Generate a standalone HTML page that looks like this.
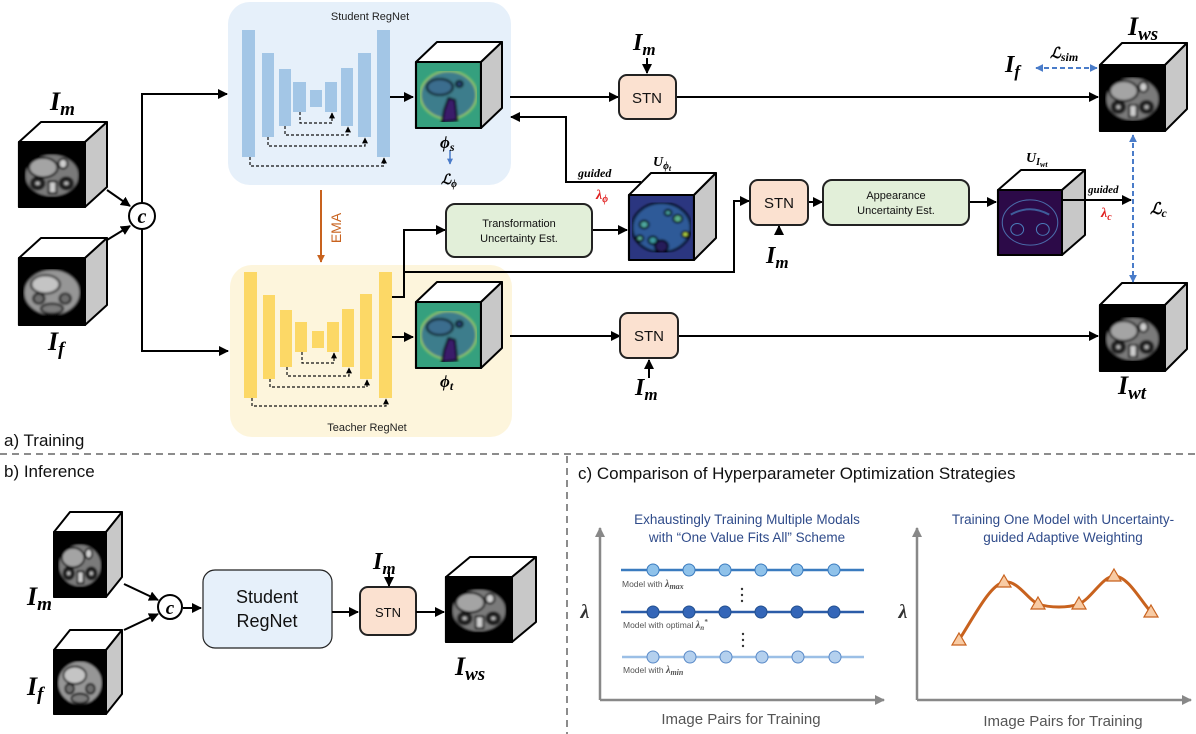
<!DOCTYPE html>
<html><head><meta charset="utf-8"><style>
html,body{margin:0;padding:0;background:#fff;}
svg{display:block;}
.s{font-family:"Liberation Sans",sans-serif;}
.m{font-family:"Liberation Serif",serif;font-style:italic;font-weight:bold;}
</style></head><body>
<svg width="1196" height="734" viewBox="0 0 1196 734" xmlns="http://www.w3.org/2000/svg">
<defs>
<filter id="bl" x="0" y="0" width="100%" height="100%"><feGaussianBlur stdDeviation="1.2"/></filter>
<marker id="a" viewBox="0 0 10 10" refX="9" refY="5" markerWidth="5" markerHeight="5" orient="auto-start-reverse"><path d="M0,0L10,5L0,10z" fill="#000"/></marker>
<marker id="b" viewBox="0 0 10 10" refX="9" refY="5" markerWidth="4" markerHeight="4" orient="auto-start-reverse"><path d="M0,0L10,5L0,10z" fill="#4a7cc9"/></marker>
<marker id="o" viewBox="0 0 10 10" refX="9" refY="5" markerWidth="4" markerHeight="4" orient="auto"><path d="M0,0L10,5L0,10z" fill="#c8621e"/></marker>
<marker id="g" viewBox="0 0 10 10" refX="9" refY="5" markerWidth="4" markerHeight="4" orient="auto"><path d="M0,0L10,5L0,10z" fill="#888"/></marker>
<g id="ct"><rect width="60" height="66" fill="#000"/><g filter="url(#bl)"><ellipse cx="30" cy="34" rx="25" ry="22" fill="#7a7a7a"/><ellipse cx="22" cy="26" rx="13" ry="10" fill="#a4a4a4"/><circle cx="17" cy="42" r="6" fill="#3a3a3a"/><circle cx="43" cy="42" r="6" fill="#3a3a3a"/><circle cx="17" cy="42" r="3" fill="#bbb"/><circle cx="43" cy="42" r="3" fill="#bbb"/><rect x="27" y="40" width="7" height="12" fill="#cfcfcf"/><ellipse cx="40" cy="22" rx="4" ry="5" fill="#d0d0d0"/></g></g>
<g id="mr"><rect width="60" height="66" fill="#000"/><g filter="url(#bl)"><ellipse cx="30" cy="34" rx="26" ry="23" fill="#969696"/><ellipse cx="24" cy="26" rx="13" ry="9" fill="#c4c4c4"/><circle cx="18" cy="40" r="5" fill="#6e6e6e"/><circle cx="42" cy="40" r="5" fill="#6e6e6e"/><ellipse cx="30" cy="50" rx="10" ry="5" fill="#7c7c7c"/></g></g>
<g id="fl"><rect width="60" height="66" fill="#35a07e"/><g filter="url(#bl)"><ellipse cx="30" cy="33" rx="26" ry="24" fill="#3e7d8c" stroke="#a8d45a" stroke-width="1.5"/><ellipse cx="22" cy="25" rx="12" ry="8" fill="#3b6d8e"/><path d="M26,48 L30,36 L36,38 L38,58 L24,60z" fill="#3b1a6a"/><circle cx="40" cy="22" r="3" fill="#2a4b7e"/></g></g>
<g id="up"><rect width="60" height="66" fill="#2b3680"/><g filter="url(#bl)"><ellipse cx="30" cy="33" rx="27" ry="25" fill="#2e5a98"/><circle cx="14" cy="30" r="4" fill="#4fa8a0"/><circle cx="45" cy="24" r="4" fill="#5cb08a"/><circle cx="52" cy="40" r="3" fill="#b6d84a"/><circle cx="22" cy="46" r="4" fill="#3c9aa0"/><circle cx="36" cy="18" r="3" fill="#4aa0a0"/><circle cx="10" cy="44" r="3" fill="#5ab09a"/><ellipse cx="30" cy="52" rx="6" ry="6" fill="#281a5a"/></g></g>
<g id="ua"><rect width="60" height="66" fill="#2c0a48"/><ellipse cx="30" cy="33" rx="26" ry="23" fill="none" stroke="#4a6aa8" stroke-width="1"/><circle cx="18" cy="40" r="6" fill="none" stroke="#4a7ab8" stroke-width="1"/><circle cx="42" cy="40" r="6" fill="none" stroke="#4a7ab8" stroke-width="1"/><path d="M12,25 Q30,14 48,25" fill="none" stroke="#3e5c9a"/></g>
</defs>

<rect x="228" y="2" width="283" height="183" rx="22" fill="#e6f0fa"/>
<text x="370" y="20" class="s" font-size="11" text-anchor="middle" fill="#222">Student RegNet</text>
<rect x="230" y="265" width="282" height="172" rx="22" fill="#fdf5dc"/>
<text x="367" y="431" class="s" font-size="11" text-anchor="middle" fill="#222">Teacher RegNet</text>

<g fill="#a3c6e6">
<rect x="242" y="30" width="13" height="127"/><rect x="262" y="53" width="12" height="84"/><rect x="279" y="69" width="12" height="57"/><rect x="293" y="82" width="13" height="30"/><rect x="310" y="90" width="12" height="17"/><rect x="325" y="82" width="12" height="30"/><rect x="341" y="68" width="12" height="58"/><rect x="358" y="53" width="13" height="84"/><rect x="377" y="30" width="13" height="127"/>
</g>
<g fill="none" stroke="#111" stroke-width="1.2" stroke-dasharray="3,2" marker-end="url(#a)">
<path d="M300,112V123H332V113"/><path d="M285,126V135H348V127"/><path d="M268,137V146H365V138"/><path d="M250,157V166H384V158"/>
</g>
<g fill="#fcd866">
<rect x="244" y="272" width="13" height="126"/><rect x="263" y="295" width="12" height="84"/><rect x="280" y="310" width="12" height="57"/><rect x="295" y="322" width="12" height="30"/><rect x="312" y="331" width="12" height="17"/><rect x="327" y="322" width="12" height="30"/><rect x="342" y="309" width="12" height="58"/><rect x="360" y="294" width="12" height="85"/><rect x="379" y="272" width="13" height="126"/>
</g>
<g fill="none" stroke="#111" stroke-width="1.2" stroke-dasharray="3,2" marker-end="url(#a)">
<path d="M302,352V363H334V353"/><path d="M287,367V376H349V368"/><path d="M270,379V387H367V380"/><path d="M252,398V406H386V399"/>
</g>

<line x1="321" y1="190" x2="321" y2="262" stroke="#c8621e" stroke-width="2" marker-end="url(#o)"/>
<text transform="translate(341,228) rotate(-90)" class="s" font-size="14" fill="#c8621e" text-anchor="middle">EMA</text>

<g stroke="#000" stroke-width="2" stroke-linejoin="round">
<use href="#ct" transform="translate(19,142) scale(1.1,0.985)"/><rect x="19" y="142" width="66" height="65" fill="none"/><polygon points="19,142 41,122 107,122 85,142" fill="#fff"/><polygon points="85,142 107,122 107,187 85,207" fill="#c8c8c8"/>
<use href="#mr" transform="translate(19,258) scale(1.1,1.015)"/><rect x="19" y="258" width="66" height="67" fill="none"/><polygon points="19,258 41,238 107,238 85,258" fill="#fff"/><polygon points="85,258 107,238 107,305 85,325" fill="#c8c8c8"/>
<use href="#fl" transform="translate(416,62) scale(1.083,1)"/><rect x="416" y="62" width="65" height="66" fill="none"/><polygon points="416,62 437,42 502,42 481,62" fill="#fff"/><polygon points="481,62 502,42 502,108 481,128" fill="#c8c8c8"/>
<use href="#fl" transform="translate(416,302) scale(1.083,1)"/><rect x="416" y="302" width="65" height="66" fill="none"/><polygon points="416,302 437,282 502,282 481,302" fill="#fff"/><polygon points="481,302 502,282 502,348 481,368" fill="#c8c8c8"/>
<use href="#up" transform="translate(629,195) scale(1.083,0.985)"/><rect x="629" y="195" width="65" height="65" fill="none"/><polygon points="629,195 651,173 716,173 694,195" fill="#fff"/><polygon points="694,195 716,173 716,238 694,260" fill="#c8c8c8"/>
<use href="#ua" transform="translate(998,190) scale(1.067,0.985)"/><rect x="998" y="190" width="64" height="65" fill="none"/><polygon points="998,190 1021,170 1085,170 1062,190" fill="#fff"/><polygon points="1062,190 1085,170 1085,235 1062,255" fill="#c8c8c8"/>
<use href="#ct" transform="translate(1100,65) scale(1.083,1)"/><rect x="1100" y="65" width="65" height="66" fill="none"/><polygon points="1100,65 1122,43 1187,43 1165,65" fill="#fff"/><polygon points="1165,65 1187,43 1187,109 1165,131" fill="#c8c8c8"/>
<use href="#ct" transform="translate(1100,305) scale(1.083,1)"/><rect x="1100" y="305" width="65" height="66" fill="none"/><polygon points="1100,305 1122,283 1187,283 1165,305" fill="#fff"/><polygon points="1165,305 1187,283 1187,349 1165,371" fill="#c8c8c8"/>
<use href="#ct" transform="translate(54,532) scale(0.867,0.985)"/><rect x="54" y="532" width="52" height="65" fill="none"/><polygon points="54,532 70,512 122,512 106,532" fill="#fff"/><polygon points="106,532 122,512 122,577 106,597" fill="#c8c8c8"/>
<use href="#mr" transform="translate(54,650) scale(0.867,0.97)"/><rect x="54" y="650" width="52" height="64" fill="none"/><polygon points="54,650 70,630 122,630 106,650" fill="#fff"/><polygon points="106,650 122,630 122,694 106,714" fill="#c8c8c8"/>
<use href="#ct" transform="translate(446,577) scale(1.1,0.985)"/><rect x="446" y="577" width="66" height="65" fill="none"/><polygon points="446,577 470,557 536,557 512,577" fill="#fff"/><polygon points="512,577 536,557 536,622 512,642" fill="#c8c8c8"/>
</g>

<g fill="none" stroke="#000" stroke-width="2" marker-end="url(#a)">
<path d="M107,190L130,206"/><path d="M107,240L130,226"/>
<path d="M142,203V94H227"/><path d="M142,229V351H228"/>
<path d="M390,97H413"/><path d="M392,337H413"/>
<path d="M510,97H618"/><path d="M676,97H1098"/>
<path d="M510,336H620"/><path d="M678,336H1098"/>
<path d="M392,297H404V230H445"/>
<path d="M404,272H734V201H749"/>
<path d="M592,230H627"/>
<path d="M808,202H822"/><path d="M969,202H996"/>
<path d="M1062,200H1131"/>
<path d="M641,182H566V117H511"/>
<path d="M647,58V73"/><path d="M779,234V226"/><path d="M649,378V360"/>
</g>
<line x1="450" y1="150" x2="450" y2="164" stroke="#4a7cc9" stroke-width="1.5" marker-end="url(#b)"/>
<line x1="1036" y1="68" x2="1097" y2="68" stroke="#4a7cc9" stroke-width="2" stroke-dasharray="5,3" marker-start="url(#b)" marker-end="url(#b)"/>
<line x1="1133" y1="135" x2="1133" y2="282" stroke="#4a7cc9" stroke-width="2" stroke-dasharray="5,3" marker-start="url(#b)" marker-end="url(#b)"/>

<circle cx="142" cy="216" r="13" fill="#fff" stroke="#000" stroke-width="2"/>
<text x="142" y="223" class="m" font-size="20" text-anchor="middle">c</text>

<g stroke="#222" stroke-width="2">
<rect x="619" y="75" width="57" height="44" rx="8" fill="#fbe1d0"/>
<rect x="750" y="180" width="58" height="45" rx="8" fill="#fbe1d0"/>
<rect x="620" y="313" width="58" height="45" rx="8" fill="#fbe1d0"/>
<rect x="446" y="204" width="146" height="53" rx="9" fill="#e2efd9"/>
<rect x="823" y="180" width="146" height="45" rx="9" fill="#e2efd9"/>
<rect x="203" y="570" width="129" height="78" rx="12" fill="#e6f0fa" stroke-width="1.2"/>
<rect x="360" y="587" width="56" height="48" rx="8" fill="#fbe1d0"/>
</g>
<g class="s" text-anchor="middle" fill="#111">
<text x="647" y="103" font-size="15">STN</text>
<text x="779" y="208" font-size="15">STN</text>
<text x="649" y="341" font-size="15">STN</text>
<text x="519" y="227" font-size="11">Transformation</text>
<text x="519" y="242" font-size="11">Uncertainty Est.</text>
<text x="896" y="199" font-size="11">Appearance</text>
<text x="896" y="214" font-size="11">Uncertainty Est.</text>
<text x="267" y="603" font-size="18">Student</text>
<text x="267" y="627" font-size="18">RegNet</text>
<text x="388" y="617" font-size="13">STN</text>
</g>

<g class="m" fill="#000">
<text x="50" y="110" font-size="26">I<tspan font-size="19" dy="5">m</tspan></text>
<text x="48" y="350" font-size="26">I<tspan font-size="19" dy="5">f</tspan></text>
<text x="440" y="148" font-size="17">ϕ<tspan font-size="12" dy="3">s</tspan></text>
<text x="441" y="184" font-size="14">ℒ<tspan font-size="10" dy="3">ϕ</tspan></text>
<text x="440" y="387" font-size="17">ϕ<tspan font-size="12" dy="3">t</tspan></text>
<text x="633" y="50" font-size="24">I<tspan font-size="17" dy="5">m</tspan></text>
<text x="766" y="263" font-size="24">I<tspan font-size="17" dy="5">m</tspan></text>
<text x="635" y="395" font-size="24">I<tspan font-size="17" dy="5">m</tspan></text>
<text x="1005" y="72" font-size="24">I<tspan font-size="17" dy="5">f</tspan></text>
<text x="1050" y="58" font-size="15">ℒ<tspan font-size="12" dy="3">sim</tspan></text>
<text x="1128" y="35" font-size="26">I<tspan font-size="19" dy="5">ws</tspan></text>
<text x="1118" y="394" font-size="26">I<tspan font-size="19" dy="5">wt</tspan></text>
<text x="1150" y="214" font-size="16">ℒ<tspan font-size="12" dy="3">c</tspan></text>
<text x="578" y="177" font-size="12">guided</text>
<text x="1088" y="193" font-size="11">guided</text>
<text x="653" y="166" font-size="14">U<tspan font-size="10" dy="3">ϕ</tspan><tspan font-size="8" dy="2">t</tspan></text>
<text x="1026" y="162" font-size="14">U<tspan font-size="10" dy="3">I</tspan><tspan font-size="8" dy="2">wt</tspan></text>
<text x="27" y="605" font-size="26">I<tspan font-size="19" dy="5">m</tspan></text>
<text x="27" y="695" font-size="26">I<tspan font-size="19" dy="5">f</tspan></text>
<text x="373" y="569" font-size="24">I<tspan font-size="17" dy="5">m</tspan></text>
<text x="455" y="675" font-size="26">I<tspan font-size="19" dy="5">ws</tspan></text>
</g>
<g class="m" fill="#e02020">
<text x="596" y="199" font-size="14">λ<tspan font-size="10" dy="3">ϕ</tspan></text>
<text x="1101" y="217" font-size="14">λ<tspan font-size="10" dy="3">c</tspan></text>
</g>

<g fill="none" stroke="#000" stroke-width="2" marker-end="url(#a)">
<path d="M124,584L158,600"/><path d="M124,630L158,614"/>
<path d="M183,608H201"/><path d="M332,612H358"/><path d="M416,612H444"/><path d="M389,572V586"/>
</g>
<circle cx="170" cy="607" r="12" fill="#fff" stroke="#000" stroke-width="2"/>
<text x="170" y="614" class="m" font-size="19" text-anchor="middle">c</text>

<line x1="0" y1="454" x2="1196" y2="454" stroke="#666" stroke-width="1.5" stroke-dasharray="7,5"/>
<line x1="567" y1="456" x2="567" y2="734" stroke="#666" stroke-width="1.5" stroke-dasharray="7,5"/>
<g class="s" font-size="17" fill="#111">
<text x="4" y="446">a) Training</text>
<text x="4" y="477">b) Inference</text>
<text x="578" y="479">c) Comparison of Hyperparameter Optimization Strategies</text>
</g>

<g stroke="#888" stroke-width="2.5" fill="none">
<path d="M600,700V528" marker-end="url(#g)"/><path d="M600,700H884" marker-end="url(#g)"/>
<path d="M917,700V528" marker-end="url(#g)"/><path d="M917,700H1191" marker-end="url(#g)"/>
</g>
<g class="s" fill="#2f4b8a" font-size="13.5" text-anchor="middle">
<text x="747" y="524">Exhaustingly Training Multiple Modals</text>
<text x="747" y="542">with “One Value Fits All” Scheme</text>
<text x="1063" y="524">Training One Model with Uncertainty-</text>
<text x="1063" y="542">guided Adaptive Weighting</text>
</g>
<g class="s" fill="#555" font-size="15" text-anchor="middle">
<text x="741" y="724">Image Pairs for Training</text>
<text x="1063" y="726">Image Pairs for Training</text>
</g>
<text x="585" y="618" class="m" font-size="20" fill="#333" text-anchor="middle">λ</text>
<text x="903" y="618" class="m" font-size="20" fill="#333" text-anchor="middle">λ</text>
<line x1="621" y1="570" x2="864" y2="570" stroke="#3a7bbf" stroke-width="2.5"/>
<line x1="621" y1="612" x2="864" y2="612" stroke="#2b5ca8" stroke-width="2.5"/>
<line x1="622" y1="657" x2="864" y2="657" stroke="#9bbfe6" stroke-width="2.5"/>
<g stroke="#3a7bbf" stroke-width="1" fill="#8fc2ea">
<circle cx="653" cy="570" r="6"/><circle cx="689" cy="570" r="6"/><circle cx="725" cy="570" r="6"/><circle cx="761" cy="570" r="6"/><circle cx="797" cy="570" r="6"/><circle cx="834" cy="570" r="6"/>
</g>
<g stroke="#23508f" stroke-width="1" fill="#3466b8">
<circle cx="653" cy="612" r="6"/><circle cx="689" cy="612" r="6"/><circle cx="725" cy="612" r="6"/><circle cx="761" cy="612" r="6"/><circle cx="797" cy="612" r="6"/><circle cx="834" cy="612" r="6"/>
</g>
<g stroke="#5a8ac8" stroke-width="1" fill="#b4d0ee">
<circle cx="653" cy="657" r="6"/><circle cx="690" cy="657" r="6"/><circle cx="726" cy="657" r="6"/><circle cx="762" cy="657" r="6"/><circle cx="798" cy="657" r="6"/><circle cx="835" cy="657" r="6"/>
</g>
<g class="s" fill="#555" font-size="8.5">
<text x="622" y="587">Model with <tspan class="m" font-weight="normal" font-size="10">λ<tspan font-size="8" dy="2">max</tspan></tspan></text>
<text x="623" y="628">Model with optimal <tspan class="m" font-weight="normal" font-size="10">λ<tspan font-size="7" dy="2">n</tspan><tspan font-size="7" dy="-6">*</tspan></tspan></text>
<text x="623" y="673">Model with <tspan class="m" font-weight="normal" font-size="10">λ<tspan font-size="8" dy="2">min</tspan></tspan></text>
</g>
<g fill="#333"><circle cx="742" cy="589" r="1.2"/><circle cx="742" cy="595" r="1.2"/><circle cx="742" cy="601" r="1.2"/><circle cx="743" cy="634" r="1.2"/><circle cx="743" cy="640" r="1.2"/><circle cx="743" cy="646" r="1.2"/></g>

<path d="M959,640 C975,615 990,585 1004,582 C1018,580 1028,600 1038,604 C1050,608 1068,608 1079,604 C1092,598 1102,577 1114,576 C1128,576 1140,600 1151,612" fill="none" stroke="#c8621e" stroke-width="3"/>
<g fill="#f8cba4" stroke="#c8621e" stroke-width="1.2">
<polygon points="959,633 966,645 952,645"/><polygon points="1004,575 1011,587 997,587"/><polygon points="1038,597 1045,609 1031,609"/><polygon points="1079,597 1086,609 1072,609"/><polygon points="1114,569 1121,581 1107,581"/><polygon points="1151,605 1158,617 1144,617"/>
</g>
</svg>
</body></html>
